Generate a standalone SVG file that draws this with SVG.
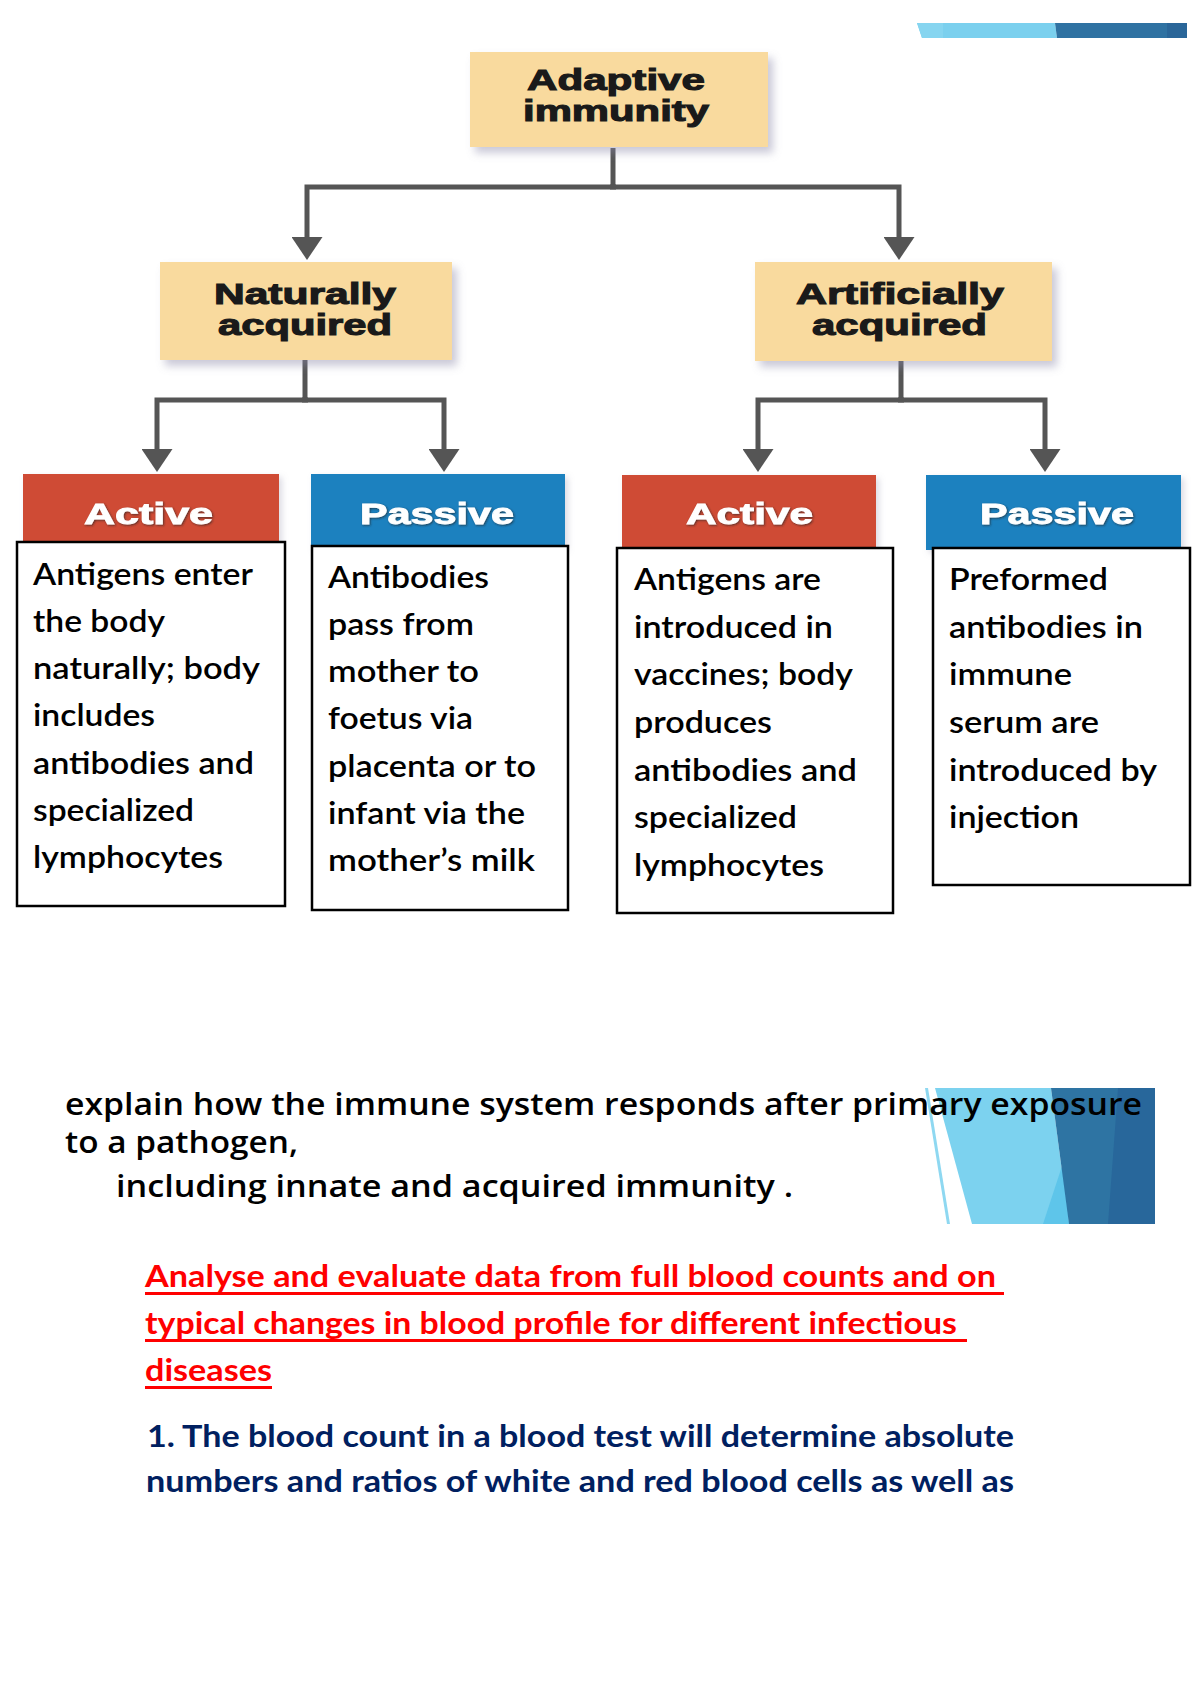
<svg xmlns="http://www.w3.org/2000/svg" width="1200" height="1698" viewBox="0 0 1200 1698">
<defs>
<style>
.peach{fill:#F9DA9E;filter:url(#sh)}
.title{font-family:"Liberation Sans",Arial,sans-serif;font-weight:bold;font-size:30px;fill:#1a1a1a;stroke:#1a1a1a;stroke-width:1.1}
.hdr{font-family:"Liberation Sans",Arial,sans-serif;font-weight:bold;font-size:30px;fill:#ffffff;stroke:#ffffff;stroke-width:0.9;filter:url(#tsh)}
.red{fill:#CF4B35;filter:url(#sh2)}
.blue{fill:#1E81BF;filter:url(#sh2)}
.wbox{fill:#ffffff;stroke:#000;stroke-width:2.5}
.body{font-family:Lato,"Open Sans",sans-serif;font-weight:600;font-size:30px;fill:#000}
.conn{fill:none;stroke:#555555;stroke-width:5;stroke-linejoin:miter}
.exp{font-family:"Open Sans",sans-serif;font-weight:600;font-size:30px;fill:#000}
.rd{font-family:Lato,sans-serif;font-weight:700;font-size:30px;fill:#FF0000}
.nv{font-family:Lato,sans-serif;font-weight:700;font-size:30px;fill:#002060}
</style>
<filter id="sh" x="-10%" y="-10%" width="130%" height="140%">
<feDropShadow dx="5" dy="6" stdDeviation="4" flood-color="#8a86a8" flood-opacity="0.45"/>
</filter>
<filter id="sh2" x="-10%" y="-10%" width="130%" height="140%">
<feDropShadow dx="3" dy="3" stdDeviation="3" flood-color="#9a98b0" flood-opacity="0.35"/>
</filter>
<filter id="tsh" x="-10%" y="-20%" width="130%" height="150%">
<feDropShadow dx="1" dy="1" stdDeviation="1.2" flood-color="#222" flood-opacity="0.7"/>
</filter>
<marker id="arr" viewBox="0 0 23 31" markerWidth="23" markerHeight="31" refX="13" refY="15.5" orient="auto" markerUnits="userSpaceOnUse">
<path d="M0,0 L23,15.5 L0,31 Z" fill="#555555"/>
</marker>
</defs>
<rect x="0" y="0" width="1200" height="1698" fill="#ffffff"/>

<g id="deco-top">
<polygon points="917,23 1055,23 1057,38 922,38" fill="#7BD0EE"/>
<polygon points="917,23 943,23 943,38 922,38" fill="#86D5F0"/>
<polygon points="1055,23 1187,23 1187,38 1057,38" fill="#2F72A2"/>
<polygon points="1167,23 1187,23 1187,38 1167,38" fill="#2A6699"/>
</g>

<g id="connectors">
<path class="conn" d="M613,148 V187"/>
<path class="conn" d="M616,187 H307 V250" marker-end="url(#arr)"/>
<path class="conn" d="M610,187 H899 V250" marker-end="url(#arr)"/>
<path class="conn" d="M305,360 V400"/>
<path class="conn" d="M308,400 H157 V462" marker-end="url(#arr)"/>
<path class="conn" d="M302,400 H444 V462" marker-end="url(#arr)"/>
<path class="conn" d="M901,361 V400"/>
<path class="conn" d="M904,400 H758 V462" marker-end="url(#arr)"/>
<path class="conn" d="M898,400 H1045 V462" marker-end="url(#arr)"/>
</g>

<g id="adaptive">
<rect class="peach" x="470" y="52" width="298" height="95"/>
<text class="title" x="527" y="90" textLength="178" lengthAdjust="spacingAndGlyphs">Adaptive</text>
<text class="title" x="523" y="121" textLength="186" lengthAdjust="spacingAndGlyphs">immunity</text>
</g>

<g id="naturally">
<rect class="peach" x="160" y="262" width="292" height="98"/>
<text class="title" x="214" y="304" textLength="182" lengthAdjust="spacingAndGlyphs">Naturally</text>
<text class="title" x="218" y="335" textLength="174" lengthAdjust="spacingAndGlyphs">acquired</text>
</g>

<g id="artificially">
<rect class="peach" x="755" y="262" width="297" height="99"/>
<text class="title" x="796" y="304" textLength="208" lengthAdjust="spacingAndGlyphs">Artificially</text>
<text class="title" x="812" y="335" textLength="175" lengthAdjust="spacingAndGlyphs">acquired</text>
</g>

<g id="active-natural">
<rect class="red" x="23" y="474" width="256" height="72"/>
<text class="hdr" x="84" y="524" textLength="129" lengthAdjust="spacingAndGlyphs">Active</text>
<rect class="wbox" x="17" y="542" width="268" height="364"/>
<text class="body" x="33" y="585" textLength="220" lengthAdjust="spacingAndGlyphs">Antigens enter</text>
<text class="body" x="33" y="632" textLength="132" lengthAdjust="spacingAndGlyphs">the body</text>
<text class="body" x="33" y="679" textLength="227" lengthAdjust="spacingAndGlyphs">naturally; body</text>
<text class="body" x="33" y="726" textLength="122" lengthAdjust="spacingAndGlyphs">includes</text>
<text class="body" x="33" y="774" textLength="221" lengthAdjust="spacingAndGlyphs">antibodies and</text>
<text class="body" x="33" y="821" textLength="161" lengthAdjust="spacingAndGlyphs">specialized</text>
<text class="body" x="33" y="868" textLength="190" lengthAdjust="spacingAndGlyphs">lymphocytes</text>
</g>

<g id="passive-natural">
<rect class="blue" x="311" y="474" width="254" height="74"/>
<text class="hdr" x="360" y="524" textLength="154" lengthAdjust="spacingAndGlyphs">Passive</text>
<rect class="wbox" x="312" y="546" width="256" height="364"/>
<text class="body" x="328" y="588" textLength="161" lengthAdjust="spacingAndGlyphs">Antibodies</text>
<text class="body" x="328" y="635" textLength="146" lengthAdjust="spacingAndGlyphs">pass from</text>
<text class="body" x="328" y="682" textLength="151" lengthAdjust="spacingAndGlyphs">mother to</text>
<text class="body" x="328" y="729" textLength="145" lengthAdjust="spacingAndGlyphs">foetus via</text>
<text class="body" x="328" y="777" textLength="208" lengthAdjust="spacingAndGlyphs">placenta or to</text>
<text class="body" x="328" y="824" textLength="197" lengthAdjust="spacingAndGlyphs">infant via the</text>
<text class="body" x="328" y="871" textLength="207" lengthAdjust="spacingAndGlyphs">mother’s milk</text>
</g>

<g id="active-artificial">
<rect class="red" x="622" y="475" width="254" height="75"/>
<text class="hdr" x="686" y="524" textLength="127" lengthAdjust="spacingAndGlyphs">Active</text>
<rect class="wbox" x="617" y="548" width="276" height="365"/>
<text class="body" x="634" y="590" textLength="187" lengthAdjust="spacingAndGlyphs">Antigens are</text>
<text class="body" x="634" y="638" textLength="199" lengthAdjust="spacingAndGlyphs">introduced in</text>
<text class="body" x="634" y="685" textLength="219" lengthAdjust="spacingAndGlyphs">vaccines; body</text>
<text class="body" x="634" y="733" textLength="138" lengthAdjust="spacingAndGlyphs">produces</text>
<text class="body" x="634" y="781" textLength="223" lengthAdjust="spacingAndGlyphs">antibodies and</text>
<text class="body" x="634" y="828" textLength="163" lengthAdjust="spacingAndGlyphs">specialized</text>
<text class="body" x="634" y="876" textLength="190" lengthAdjust="spacingAndGlyphs">lymphocytes</text>
</g>

<g id="passive-artificial">
<rect class="blue" x="926" y="475" width="255" height="75"/>
<text class="hdr" x="980" y="524" textLength="154" lengthAdjust="spacingAndGlyphs">Passive</text>
<rect class="wbox" x="933" y="548" width="257" height="337"/>
<text class="body" x="949" y="590" textLength="159" lengthAdjust="spacingAndGlyphs">Preformed</text>
<text class="body" x="949" y="638" textLength="194" lengthAdjust="spacingAndGlyphs">antibodies in</text>
<text class="body" x="949" y="685" textLength="123" lengthAdjust="spacingAndGlyphs">immune</text>
<text class="body" x="949" y="733" textLength="150" lengthAdjust="spacingAndGlyphs">serum are</text>
<text class="body" x="949" y="781" textLength="208" lengthAdjust="spacingAndGlyphs">introduced by</text>
<text class="body" x="949" y="828" textLength="130" lengthAdjust="spacingAndGlyphs">injection</text>
</g>

<g id="deco-bottom">
<polygon points="925,1088 928,1088 950,1224 947,1224" fill="#8ED8F1"/>
<polygon points="935,1088 1051,1088 1069,1224 972,1224" fill="#7CD2EF"/>
<polygon points="1064,1160 1069,1224 1043,1224" fill="#5EC5EA"/>
<polygon points="1051,1088 1155,1088 1155,1224 1069,1224" fill="#2E74A3"/>
<polygon points="1118,1088 1155,1088 1155,1224 1108,1224" fill="#28679B"/>
</g>

<g id="explain-text">
<text class="exp" x="65" y="1115" textLength="1077" lengthAdjust="spacingAndGlyphs">explain how the immune system responds after primary exposure</text>
<text class="exp" x="65" y="1153" textLength="233" lengthAdjust="spacingAndGlyphs">to a pathogen,</text>
<text class="exp" x="116" y="1197" textLength="677" lengthAdjust="spacingAndGlyphs">including innate and acquired immunity .</text>
</g>

<g id="red-heading">
<text class="rd" x="145" y="1287" textLength="851" lengthAdjust="spacingAndGlyphs">Analyse and evaluate data from full blood counts and on</text>
<rect x="145" y="1292" width="859" height="3" fill="#FF0000"/>
<text class="rd" x="145" y="1334" textLength="812" lengthAdjust="spacingAndGlyphs">typical changes in blood profile for different infectious</text>
<rect x="145" y="1339" width="822" height="3" fill="#FF0000"/>
<text class="rd" x="145" y="1381" textLength="127" lengthAdjust="spacingAndGlyphs">diseases</text>
<rect x="145" y="1386" width="127" height="3" fill="#FF0000"/>
</g>

<g id="blue-text">
<text class="nv" x="147" y="1447" textLength="867" lengthAdjust="spacingAndGlyphs">1. The blood count in a blood test will determine absolute</text>
<text class="nv" x="146" y="1492" textLength="868" lengthAdjust="spacingAndGlyphs">numbers and ratios of white and red blood cells as well as</text>
</g>
</svg>
